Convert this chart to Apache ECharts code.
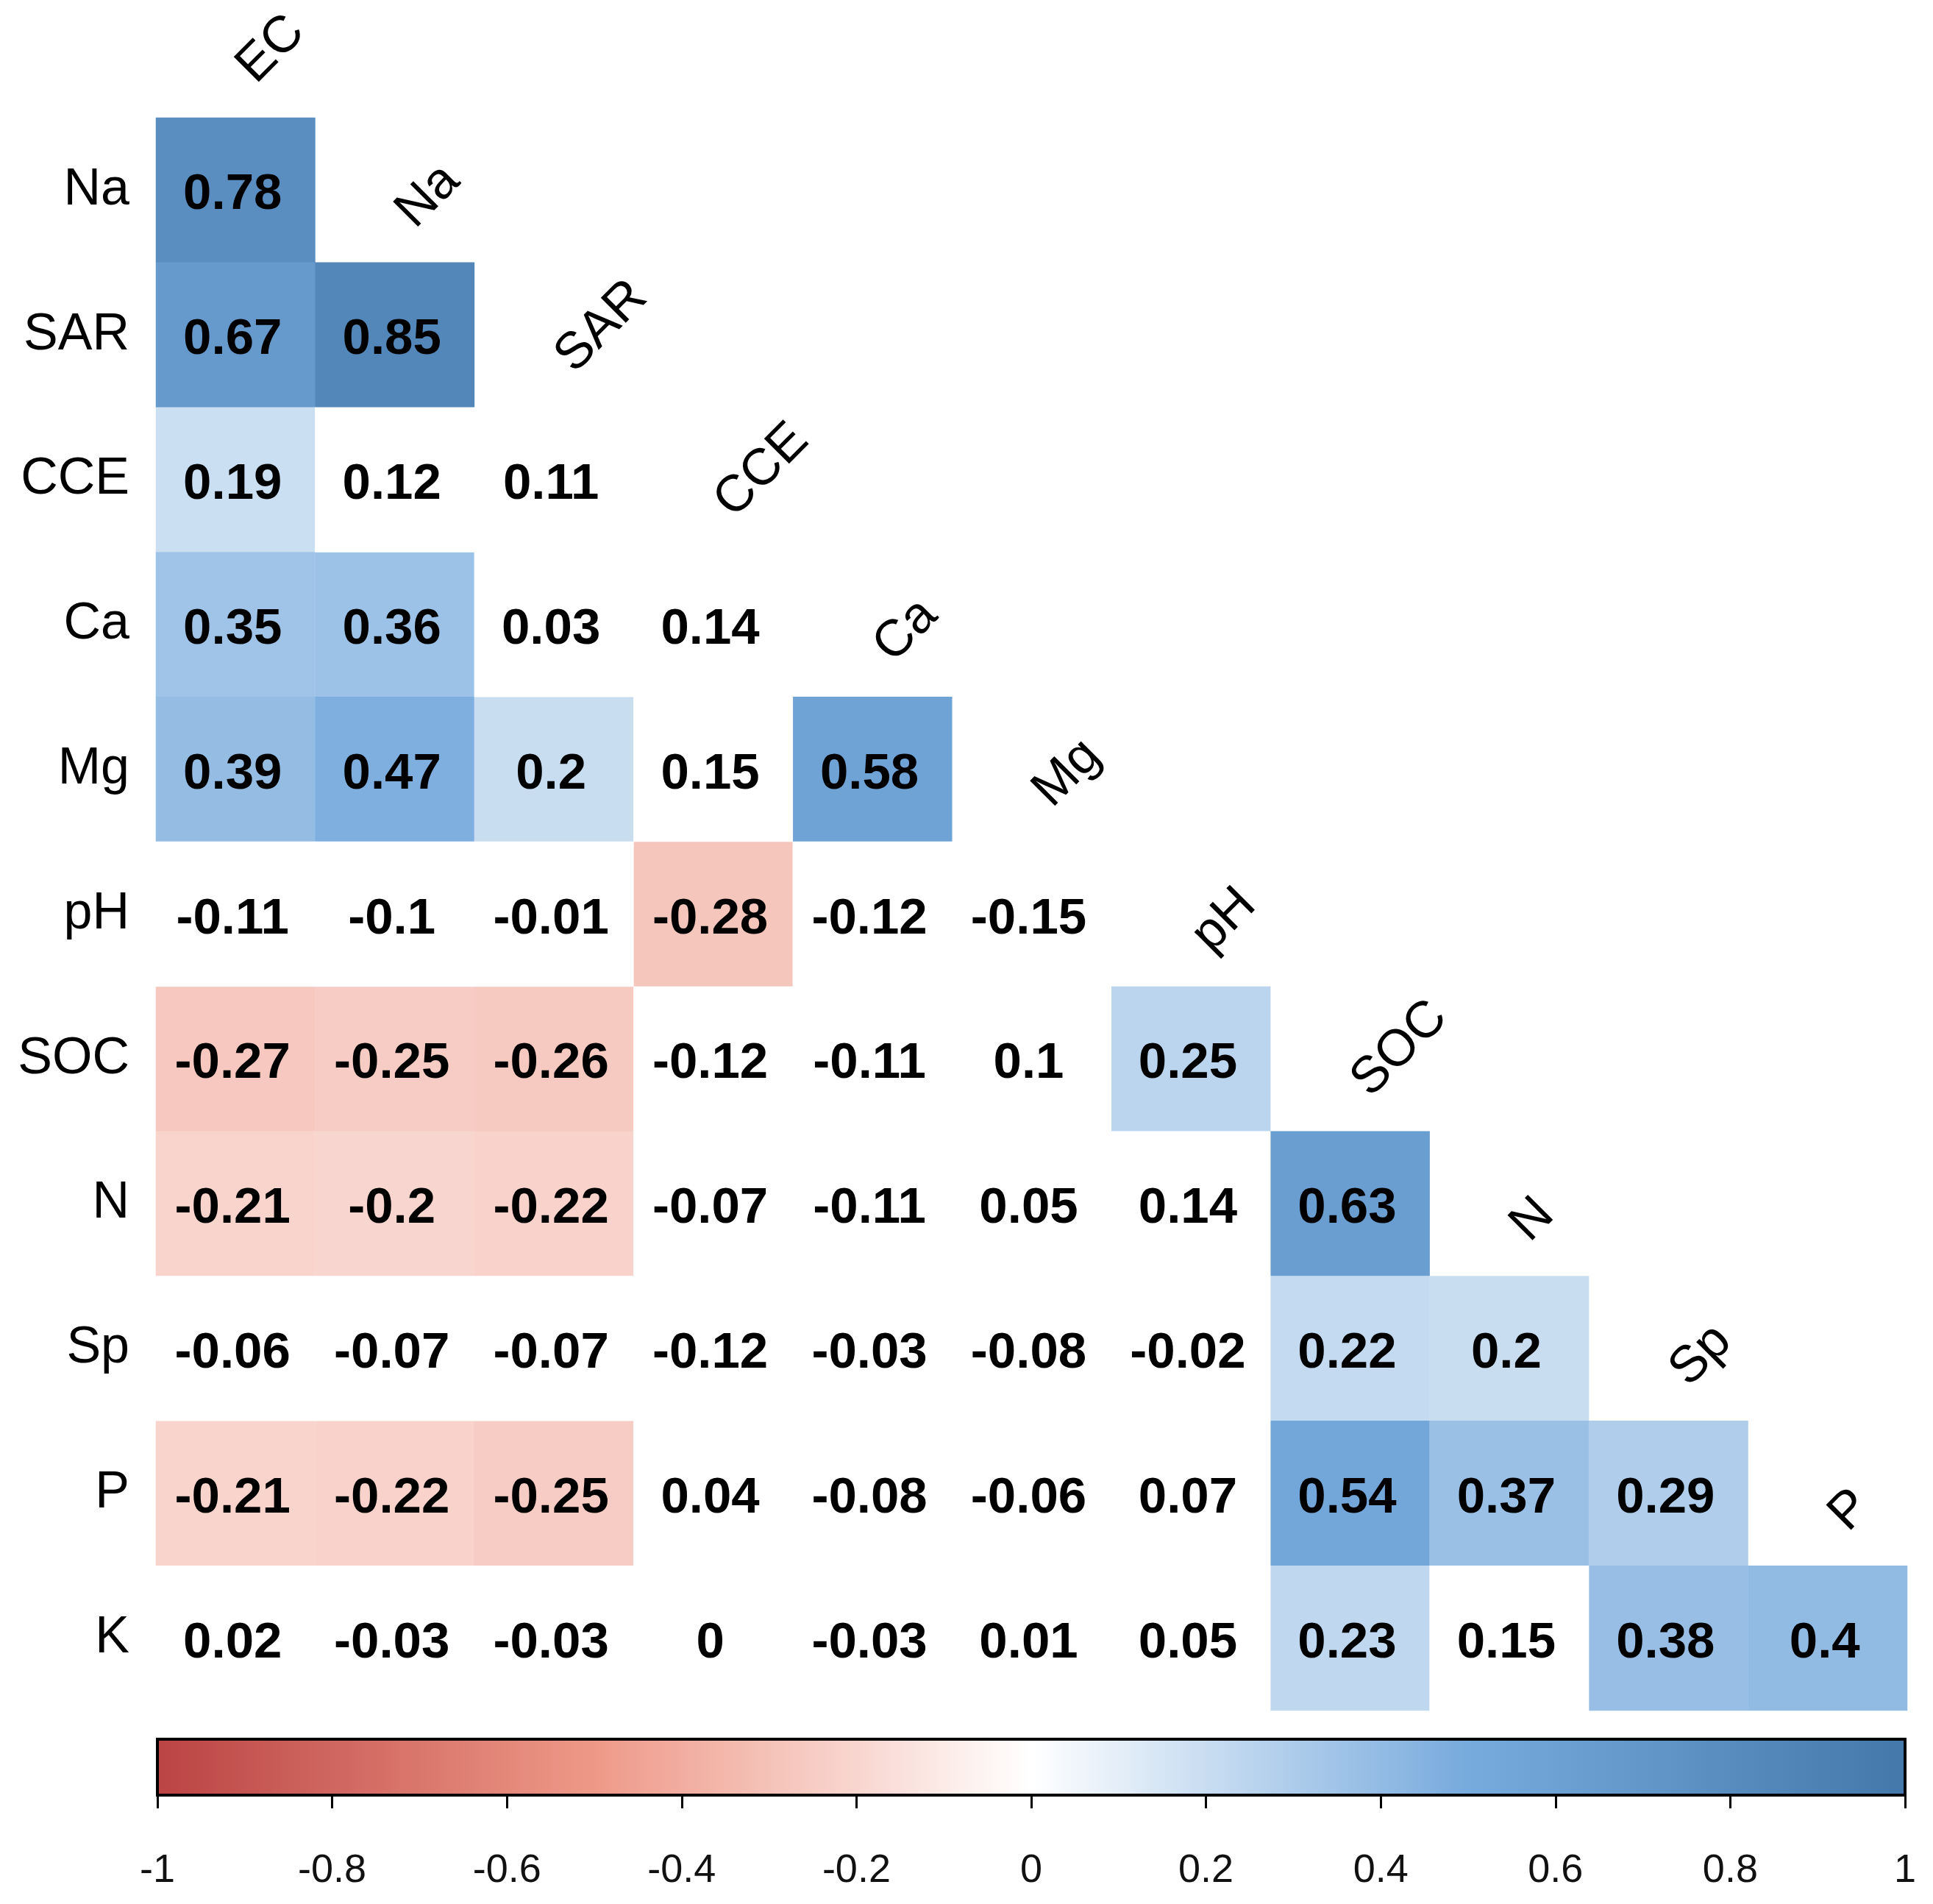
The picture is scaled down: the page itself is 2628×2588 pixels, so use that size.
<!DOCTYPE html>
<html>
<head>
<meta charset="utf-8">
<script src="https://cdn.jsdelivr.net/npm/echarts@6/dist/echarts.min.js"></script>
<style>
html,body{margin:0;padding:0;background:#fff;}
#chart{width:2628px;height:2588px;}
</style>
</head>
<body>
<div id="chart"></div>
<script>
// ---- data ----
const rowNames = ['Na','SAR','CCE','Ca','Mg','pH','SOC','N','Sp','P','K'];
const colNames = ['EC','Na','SAR','CCE','Ca','Mg','pH','SOC','N','Sp','P'];

const valNa  = [0.78];
const valSAR = [0.67, 0.85];
const valCCE = [0.19, 0.12, 0.11];
const valCa  = [0.35, 0.36, 0.03, 0.14];
const valMg  = [0.39, 0.47, 0.2, 0.15, 0.58];
const valPH  = [-0.11, -0.1, -0.01, -0.28, -0.12, -0.15];
const valSOC = [-0.27, -0.25, -0.26, -0.12, -0.11, 0.1, 0.25];
const valN   = [-0.21, -0.2, -0.22, -0.07, -0.11, 0.05, 0.14, 0.63];
const valSp  = [-0.06, -0.07, -0.07, -0.12, -0.03, -0.08, -0.02, 0.22, 0.2];
const valP   = [-0.21, -0.22, -0.25, 0.04, -0.08, -0.06, 0.07, 0.54, 0.37, 0.29];
const valK   = [0.02, -0.03, -0.03, 0, -0.03, 0.01, 0.05, 0.23, 0.15, 0.38, 0.4];

// 1 = significant (coloured), 0 = not significant (left blank)
const sigNa  = [1];
const sigSAR = [1, 1];
const sigCCE = [1, 0, 0];
const sigCa  = [1, 1, 0, 0];
const sigMg  = [1, 1, 1, 0, 1];
const sigPH  = [0, 0, 0, 1, 0, 0];
const sigSOC = [1, 1, 1, 0, 0, 0, 1];
const sigN   = [1, 1, 1, 0, 0, 0, 0, 1];
const sigSp  = [0, 0, 0, 0, 0, 0, 0, 1, 1];
const sigP   = [1, 1, 1, 0, 0, 0, 0, 1, 1, 1];
const sigK   = [0, 0, 0, 0, 0, 0, 0, 1, 0, 1, 1];

const paletteColors = ['#BB4444', '#EE9988', '#FFFFFF', '#77AADD', '#4477AA'];
const scaleMin = -1, scaleMax = 1, scaleStep = 0.2;

// ---- build series data ----
const allVals = [valNa, valSAR, valCCE, valCa, valMg, valPH, valSOC, valN, valSp, valP, valK];
const allSig  = [sigNa, sigSAR, sigCCE, sigCa, sigMg, sigPH, sigSOC, sigN, sigSp, sigP, sigK];
const sigData = [], insigData = [];
allVals.forEach((row, r) => {
  row.forEach((v, c) => {
    (allSig[r][c] ? sigData : insigData).push([c, r, v]);
  });
});
const diagData = colNames.map((n, j) => [j, 0]);

const FONT = 'Liberation Sans, Arial, Helvetica, sans-serif';
const GL = 212, GT = 160, GW = 2381, GH = 2165;
const cellLabel = {
  show: true,
  formatter: p => String(p.value[2]),
  color: '#000',
  fontSize: 69,
  fontWeight: 'bold',
  fontFamily: FONT,
  offset: [-4, 7]
};

const chart = echarts.init(document.getElementById('chart'), null, {renderer: 'canvas'});
chart.setOption({
  backgroundColor: '#ffffff',
  animation: false,
  grid: [
    {left: GL, top: GT, width: GW, height: GH, show: false},
    {left: 214, top: 2364, width: 2376, height: 76, show: true, z: 10,
     borderColor: '#000', borderWidth: 4, backgroundColor: 'transparent'}
  ],
  xAxis: [
    {type: 'category', gridIndex: 0, data: colNames, show: false},
    {type: 'value', gridIndex: 1, min: scaleMin, max: scaleMax, interval: scaleStep, z: 10,
     axisLine: {show: false},
     axisTick: {show: true, inside: false, length: 18, lineStyle: {color: '#000', width: 3}},
     splitLine: {show: false},
     axisLabel: {fontSize: 54, color: '#111', fontFamily: FONT, margin: 76,
       formatter: v => String(Math.round(v * 10) / 10)}}
  ],
  yAxis: [
    {type: 'category', gridIndex: 0, data: rowNames, inverse: true,
     axisLine: {show: false}, axisTick: {show: false}, splitLine: {show: false},
     axisLabel: {fontSize: 70, color: '#000', fontFamily: FONT, margin: 36,
       padding: [6, 0, 0, 0]}},
    {type: 'value', gridIndex: 1, show: false, min: 0, max: 1}
  ],
  visualMap: {
    type: 'continuous',
    min: scaleMin, max: scaleMax,
    seriesIndex: 0, dimension: 2,
    orient: 'horizontal',
    left: 214, top: 2364,
    itemWidth: 76, itemHeight: 2376,
    padding: 0,
    calculable: false, hoverLink: false,
    z: 1,
    inRange: {color: paletteColors}
  },
  series: [
    {type: 'heatmap', xAxisIndex: 0, yAxisIndex: 0, data: sigData, label: cellLabel,
     itemStyle: {borderWidth: 0}},
    {type: 'heatmap', xAxisIndex: 0, yAxisIndex: 0, data: insigData, label: cellLabel,
     itemStyle: {color: '#ffffff', borderWidth: 0}},
    {type: 'custom', xAxisIndex: 0, yAxisIndex: 0, data: diagData, clip: false,
     renderItem: function (params, api) {
       const j = api.value(0);
       const base = api.coord([j, 0]);
       const size = api.size([1, 1]);
       const cx = base[0];
       const cy = base[1] + (j - 1) * size[1];
       return {
         type: 'text',
         x: cx + 14, y: cy + 40,
         rotation: Math.PI / 4,
         style: {text: colNames[j], x: 0, y: 0, fill: '#000',
           fontSize: 70, fontFamily: FONT, align: 'left', verticalAlign: 'middle'}
       };
     }}
  ]
});
</script>
</body>
</html>
